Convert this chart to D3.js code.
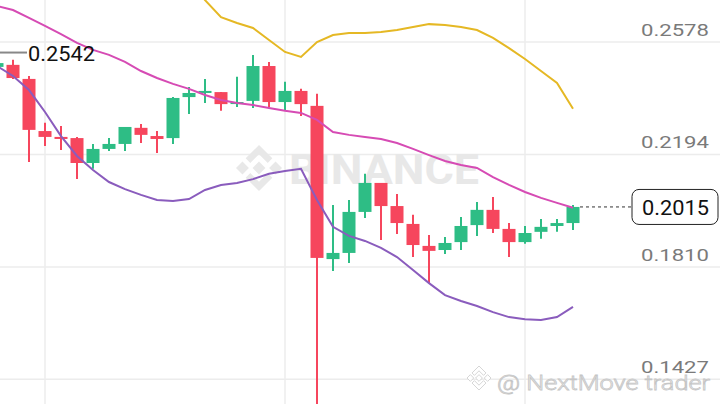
<!DOCTYPE html>
<html><head><meta charset="utf-8">
<script src="https://cdn.jsdelivr.net/npm/d3@7/dist/d3.min.js"></script>
<style>html,body{margin:0;padding:0;background:#fff;overflow:hidden}svg{display:block}</style>
</head><body>
<svg id="c" width="720" height="404"></svg>
<script>
// ---- data ----
const opens  = [0.2493,0.2500,0.2452,0.2274,0.2254,0.2250,0.2165,0.2213,0.2230,0.2285,0.2257,0.2250,0.2390,0.2404,0.2407,0.2370,0.2377,0.2496,0.2373,0.2411,0.2360,0.1837,0.1858,0.1998,0.2097,0.2018,0.1957,0.1882,0.1868,0.1895,0.1953,0.2005,0.1940,0.1895,0.1930,0.1950,0.1960];
const highs  = [0.2517,0.2517,0.2462,0.2302,0.2291,0.2254,0.2230,0.2250,0.2288,0.2298,0.2274,0.2390,0.2424,0.2452,0.2407,0.2459,0.2534,0.2510,0.2442,0.2418,0.2401,0.2022,0.2039,0.2128,0.2097,0.2059,0.1988,0.1919,0.1912,0.1981,0.2032,0.2049,0.1960,0.1950,0.1974,0.1974,0.2022];
const lows   = [0.2483,0.2452,0.2168,0.2223,0.2209,0.2110,0.2145,0.2206,0.2206,0.2233,0.2199,0.2230,0.2332,0.2370,0.2343,0.2356,0.2353,0.2356,0.2346,0.2325,0.1288,0.1796,0.1824,0.1977,0.1902,0.1923,0.1844,0.1755,0.1854,0.1868,0.1916,0.1926,0.1844,0.1889,0.1906,0.1930,0.1936];
const closes = [0.2506,0.2455,0.2278,0.2254,0.2247,0.2165,0.2213,0.2230,0.2288,0.2261,0.2247,0.2387,0.2404,0.2411,0.2366,0.2373,0.2496,0.2373,0.2411,0.2366,0.1841,0.1858,0.1998,0.2097,0.2018,0.1960,0.1885,0.1865,0.1892,0.1950,0.2005,0.1940,0.1895,0.1926,0.1947,0.1960,0.2015];
const upperBand = [0.2701,0.2687,0.2660,0.2633,0.2605,0.2575,0.2551,0.2534,0.2510,0.2479,0.2455,0.2435,0.2418,0.2397,0.2380,0.2370,0.2363,0.2353,0.2343,0.2336,0.2312,0.2271,0.2261,0.2254,0.2247,0.2233,0.2213,0.2192,0.2172,0.2158,0.2148,0.2117,0.2090,0.2066,0.2046,0.2029,0.2012];
const lowerBand = [0.2496,0.2462,0.2414,0.2339,0.2257,0.2189,0.2141,0.2100,0.2076,0.2056,0.2039,0.2035,0.2042,0.2073,0.2090,0.2097,0.2110,0.2128,0.2138,0.2145,0.2039,0.1947,0.1916,0.1899,0.1875,0.1844,0.1800,0.1755,0.1714,0.1694,0.1677,0.1656,0.1639,0.1632,0.1629,0.1639,0.1674];
const yellowStart = 12;
const yellowLine = [0.2790,0.2721,0.2663,0.2643,0.2626,0.2585,0.2544,0.2527,0.2578,0.2602,0.2609,0.2609,0.2612,0.2619,0.2629,0.2639,0.2636,0.2629,0.2619,0.2592,0.2557,0.2520,0.2479,0.2438,0.2350];
const tickValues = [0.1427, 0.1810, 0.2194, 0.2578];
const tickLabels = ["0.1427", "0.1810", "0.2194", "0.2578"];
const vGridIndex = [3, 18, 33];
const lastPrice = 0.2015;
const markPrice = 0.2542;

// ---- scales ----
const svg = d3.select("#c");
const W = 720, H = 404;
const x = d3.scaleLinear().domain([0, 36]).range([-3, 573]);
const y = d3.scaleLinear().domain([0.1427, 0.2578]).range([379.2, 42]);
const up = "#2ebd85", dn = "#f6465d";

// grid
const grid = svg.append("g");
grid.selectAll("line.h").data(tickValues).join("line")
  .attr("x1", 0).attr("x2", W).attr("y1", d => y(d)).attr("y2", d => y(d))
  .attr("stroke", "#ececec").attr("stroke-width", 1.5);
grid.selectAll("line.v").data(vGridIndex).join("line")
  .attr("x1", d => x(d)).attr("x2", d => x(d)).attr("y1", 0).attr("y2", H)
  .attr("stroke", "#ececec").attr("stroke-width", 1.5);

// Binance logo helper
function logo(g, cx, cy, s, fill, stroke) {
  const k = s / 50;
  const polys = [
    [[0,-14],[14,0],[0,14],[-14,0]],
    [[-50,0],[-36,-14],[-22,0],[-36,14]],
    [[50,0],[36,-14],[22,0],[36,14]],
    [[-29,-21],[0,-50],[29,-21],[19,-11],[0,-30],[-19,-11]],
    [[-29,21],[0,50],[29,21],[19,11],[0,30],[-19,11]]
  ];
  g.selectAll(null).data(polys).join("polygon")
    .attr("points", p => p.map(q => [cx + q[0]*k, cy + q[1]*k].join(",")).join(" "))
    .attr("fill", fill).attr("stroke", stroke || "none").attr("stroke-width", 0.8);
}

// watermark
const wm = svg.append("g");
logo(wm, 259, 168, 23, "#e8e8e8");
wm.append("text").attr("x", 289).attr("y", 184)
  .attr("font-family", "Roboto, Arial, sans-serif").attr("font-weight", 700)
  .attr("font-size", 42).attr("fill", "#e8e8e8")
  .attr("textLength", 190).attr("lengthAdjust", "spacingAndGlyphs").text("BINANCE");

// candles
const idx = d3.range(opens.length);
const cg = svg.append("g");
cg.selectAll("line.w").data(idx).join("line")
  .attr("x1", i => x(i)).attr("x2", i => x(i))
  .attr("y1", i => y(highs[i])).attr("y2", i => y(lows[i]))
  .attr("stroke", i => closes[i] >= opens[i] ? up : dn).attr("stroke-width", 2);
cg.selectAll("rect").data(idx).join("rect")
  .attr("x", i => x(i) - 6.5).attr("width", 13)
  .attr("y", i => y(Math.max(opens[i], closes[i])))
  .attr("height", i => Math.max(2, Math.abs(y(opens[i]) - y(closes[i]))))
  .attr("fill", i => closes[i] >= opens[i] ? up : dn);

// bands
const line = d3.line().x(d => x(d[0])).y(d => y(d[1]));
svg.append("path").attr("d", line(upperBand.map((v,i)=>[i,v])))
  .attr("fill","none").attr("stroke","#d64bb4").attr("stroke-width",2);
svg.append("path").attr("d", line(lowerBand.map((v,i)=>[i,v])))
  .attr("fill","none").attr("stroke","#8a5cbd").attr("stroke-width",2);
svg.append("path").attr("d", line(yellowLine.map((v,i)=>[i+yellowStart,v])))
  .attr("fill","none").attr("stroke","#e5b824").attr("stroke-width",2);

// axis labels
svg.append("g").selectAll("text").data(tickValues).join("text")
  .attr("x", 641).attr("y", d => y(d) - 6)
  .attr("font-family", "Roboto, Arial, sans-serif").attr("font-size", 17)
  .attr("fill", "#7a7a7a").attr("textLength", 68).attr("lengthAdjust", "spacingAndGlyphs")
  .text((d,i) => tickLabels[i]);

// last price
const ly = y(lastPrice);
svg.append("line").attr("x1", x(36) + 7).attr("x2", 632).attr("y1", ly).attr("y2", ly)
  .attr("stroke", "#333").attr("stroke-width", 1).attr("stroke-dasharray", "3,3");
svg.append("rect").attr("x", 632).attr("y", ly - 17.5).attr("width", 86).attr("height", 35)
  .attr("rx", 7).attr("fill", "#fff").attr("stroke", "#222").attr("stroke-width", 1);
svg.append("text").attr("x", 642).attr("y", ly + 8)
  .attr("font-family", "Roboto, Arial, sans-serif").attr("font-size", 20).attr("fill", "#111")
  .attr("textLength", 67).attr("lengthAdjust", "spacingAndGlyphs").text(lastPrice.toFixed(4));

// mark price label
const my = y(markPrice);
svg.append("line").attr("x1", 0).attr("x2", 27).attr("y1", my).attr("y2", my)
  .attr("stroke", "#888").attr("stroke-width", 2);
svg.append("text").attr("x", 28).attr("y", my + 8)
  .attr("font-family", "Roboto, Arial, sans-serif").attr("font-size", 20).attr("fill", "#111")
  .attr("textLength", 67).attr("lengthAdjust", "spacingAndGlyphs").text(markPrice.toFixed(4));

// bottom watermark
const bw = svg.append("g");
logo(bw, 479, 378, 12, "#fff", "#cccccc");
bw.append("text").attr("x", 497).attr("y", 390)
  .attr("font-family", "Roboto, Arial, sans-serif").attr("font-weight", 300).attr("font-size", 21)
  .attr("fill", "#fff").attr("stroke", "#c6c6c6").attr("stroke-width", 0.8)
  .attr("textLength", 213).attr("lengthAdjust", "spacingAndGlyphs").text("@ NextMove trader");
</script>
</body></html>
